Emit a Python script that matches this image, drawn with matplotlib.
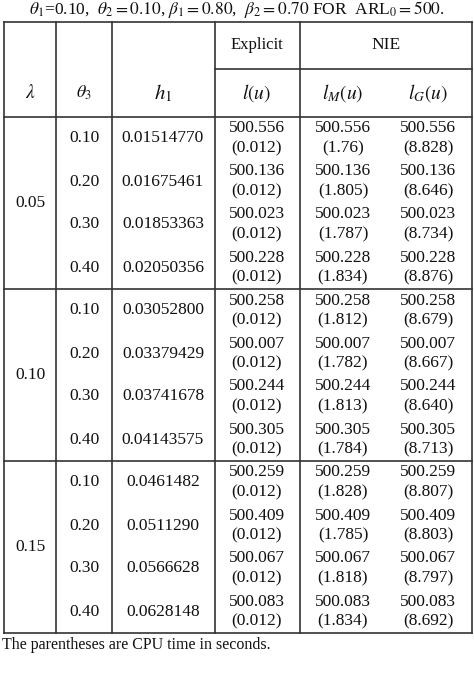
import matplotlib
matplotlib.use("Agg")
import matplotlib.pyplot as plt
from matplotlib.lines import Line2D

lambdas = ["0.05", "0.10", "0.15"]
theta3 = ["0.10", "0.20", "0.30", "0.40"]
h1 = ["0.01514770", "0.01675461", "0.01853363", "0.02050356",
      "0.03052800", "0.03379429", "0.03741678", "0.04143575",
      "0.0461482", "0.0511290", "0.0566628", "0.0628148"]
arl_exp = ["500.556", "500.136", "500.023", "500.228",
           "500.258", "500.007", "500.244", "500.305",
           "500.259", "500.409", "500.067", "500.083"]
arl_m = arl_exp
arl_g = arl_exp
cpu_exp = ["0.012"] * 12
cpu_m = ["1.76", "1.805", "1.787", "1.834", "1.812", "1.782", "1.813", "1.784",
         "1.828", "1.785", "1.818", "1.834"]
cpu_g = ["8.828", "8.646", "8.734", "8.876", "8.679", "8.667", "8.640", "8.713",
         "8.807", "8.803", "8.797", "8.692"]

W, H = 474, 676
fig = plt.figure(figsize=(W/100, H/100), dpi=100)
plt.rcParams['font.family'] = ['Liberation Serif', 'DejaVu Serif']
plt.rcParams['mathtext.fontset'] = 'stix'

def X(x): return x / W
def Y(y): return 1 - y / H
def line(x0, y0, x1, y1, lw=1.2):
    fig.add_artist(Line2D([X(x0), X(x1)], [Y(y0), Y(y1)], color='#333333', lw=lw))
def txt(x, y, s, fs=12.5, ha='center'):
    fig.text(X(x), Y(y), s, fontsize=fs, ha=ha, va='center', color='#111111')

txt(237, 9, r"$\theta_1$=0.10,  $\theta_2=0.10$, $\beta_1=0.80$,  $\beta_2=0.70$ FOR  ARL$_0=500$.", fs=12.5)

xs = [4, 56, 112, 215, 300, 472]
top, hmid, hbot = 22, 69, 117
group_h = 172
bottom = hbot + 3 * group_h
for x in xs:
    line(x, top, x, bottom)
line(4, top, 472, top)
line(215, hmid, 472, hmid)
line(4, hbot, 472, hbot)
for g in range(1, 4):
    line(4, hbot + g * group_h, 472, hbot + g * group_h)

txt(30, 93, r"$\lambda$", fs=14)
txt(84, 93, r"$\theta_3$", fs=13)
txt(163, 93, r"$h_1$", fs=15)
txt(257, 45, "Explicit", fs=12)
txt(386, 45, "NIE", fs=12.5)
txt(257, 93, r"$l(u)$", fs=14)
txt(343, 93, r"$l_M(u)$", fs=14)
txt(428, 93, r"$l_G(u)$", fs=14)

k = 0
for g, lam in enumerate(lambdas):
    gt = hbot + g * group_h
    txt(30, gt + group_h / 2, lam)
    for i, t in enumerate(theta3):
        cy = gt + 21.5 + 43 * i
        txt(84, cy, t)
        txt(163, cy, h1[k])
        for x, a, c in [(257, arl_exp[k], cpu_exp[k]), (343, arl_m[k], cpu_m[k]),
                        (428, arl_g[k], cpu_g[k])]:
            txt(x, cy - 10, a)
            txt(x, cy + 10, f"({c})")
        k += 1

txt(2, 645, "The parentheses are CPU time in seconds.", fs=11.5, ha='left')
fig.savefig("out.png", dpi=100, facecolor='white')
